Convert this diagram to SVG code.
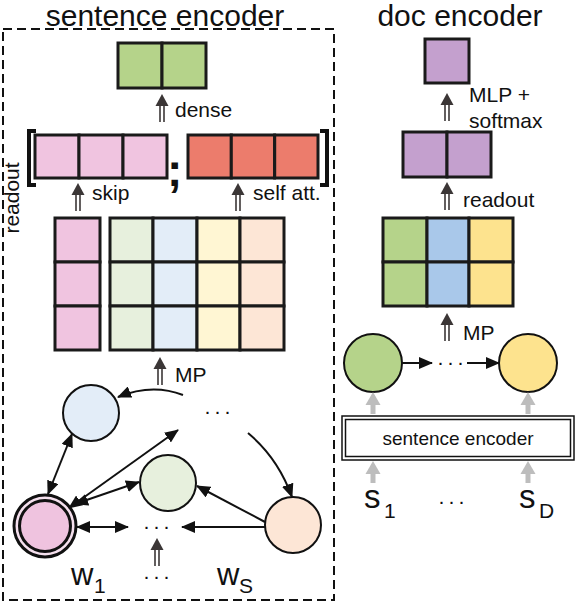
<svg xmlns="http://www.w3.org/2000/svg" xmlns:xlink="http://www.w3.org/1999/xlink" width="578" height="607" viewBox="0 0 578 607">
<style>
text{font-family:"Liberation Sans",Arial,sans-serif;fill:#111}
.t{font-size:30px}
.l{font-size:21px}
.dots{font-size:21px;letter-spacing:3px}
.cell{stroke:#1a1a1a;stroke-width:3}
.edge{stroke:#111;stroke-width:2;fill:none}
.node{stroke:#111;stroke-width:2}
</style>
<defs>
<marker id="ah" markerUnits="userSpaceOnUse" markerWidth="14" markerHeight="12" viewBox="0 0 14 12" refX="13" refY="6" orient="auto-start-reverse">
<path d="M0,0 L14,6 L0,12 z" fill="#111"/>
</marker>
<g id="up">
<polygon points="0,0 -6.5,12 6.5,12" fill="#3b3636"/>
<line x1="-2" y1="11" x2="-2" y2="28" stroke="#3b3636" stroke-width="1.6"/>
<line x1="2" y1="11" x2="2" y2="28" stroke="#3b3636" stroke-width="1.6"/>
</g>
<g id="gup">
<polygon points="0,0 -7.5,13 7.5,13" fill="#bdbdbd"/>
<rect x="-2.5" y="12" width="5" height="10" fill="#bdbdbd"/>
</g>
</defs>
<rect width="578" height="607" fill="#fff"/>

<g id="sentence-encoder-frame">
<text class="t" x="165" y="26" text-anchor="middle">sentence encoder</text>
<rect x="3" y="29" width="331" height="571" fill="none" stroke="#111" stroke-width="2" stroke-dasharray="9 5"/>
</g>

<g id="dense-output">
<rect class="cell" x="118" y="43" width="44" height="45" fill="#b5d38a"/>
<rect class="cell" x="162" y="43" width="44" height="45" fill="#b5d38a"/>
</g>

<g id="readout-concat">
<path d="M36,131 H29 V185 H36" fill="none" stroke="#111" stroke-width="4"/>
<path d="M320,131 H327 V185 H320" fill="none" stroke="#111" stroke-width="4"/>
<rect class="cell" x="35" y="135" width="44" height="43" fill="#f0c4e0"/>
<rect class="cell" x="79" y="135" width="44" height="43" fill="#f0c4e0"/>
<rect class="cell" x="123" y="135" width="44" height="43" fill="#f0c4e0"/>
<text x="167" y="186" style="font-size:46px;font-weight:bold">;</text>
<rect class="cell" x="188" y="135" width="43.3" height="43" fill="#ec7c6c"/>
<rect class="cell" x="231.3" y="135" width="43.3" height="43" fill="#ec7c6c"/>
<rect class="cell" x="274.7" y="135" width="43.3" height="43" fill="#ec7c6c"/>
<text class="l" transform="translate(19,198) rotate(-90)" text-anchor="middle">readout</text>
</g>

<g id="word-matrix">
<rect class="cell" x="55" y="218" width="45" height="44" fill="#f0c4e0"/>
<rect class="cell" x="55" y="262" width="45" height="44" fill="#f0c4e0"/>
<rect class="cell" x="55" y="306" width="45" height="44" fill="#f0c4e0"/>
<rect class="cell" x="110" y="218" width="43" height="44" fill="#e7f0dd"/>
<rect class="cell" x="110" y="262" width="43" height="44" fill="#e7f0dd"/>
<rect class="cell" x="110" y="306" width="43" height="44" fill="#e7f0dd"/>
<rect class="cell" x="153" y="218" width="44" height="44" fill="#e3edf8"/>
<rect class="cell" x="153" y="262" width="44" height="44" fill="#e3edf8"/>
<rect class="cell" x="153" y="306" width="44" height="44" fill="#e3edf8"/>
<rect class="cell" x="197" y="218" width="43" height="44" fill="#fff6d3"/>
<rect class="cell" x="197" y="262" width="43" height="44" fill="#fff6d3"/>
<rect class="cell" x="197" y="306" width="43" height="44" fill="#fff6d3"/>
<rect class="cell" x="240" y="218" width="44" height="44" fill="#fde6d6"/>
<rect class="cell" x="240" y="262" width="44" height="44" fill="#fde6d6"/>
<rect class="cell" x="240" y="306" width="44" height="44" fill="#fde6d6"/>
</g>

<g id="word-w1">
<circle cx="45" cy="526" r="31" fill="#f5e0ee" stroke="#111" stroke-width="3"/>
<circle cx="45" cy="526" r="25.5" fill="#efc3df" stroke="#111" stroke-width="3"/>
<text x="71" y="585" style="font-size:31px">w</text>
<text x="94" y="593" class="l">1</text>
</g>
<g id="word-blue">
<circle class="node" cx="91" cy="413" r="28" fill="#e3edf8"/>
</g>
<g id="word-green">
<circle class="node" cx="168" cy="483" r="28" fill="#e7f0dd"/>
</g>
<g id="word-wS">
<circle class="node" cx="293" cy="525" r="28" fill="#fde6d6"/>
<text x="217" y="585" style="font-size:31px">w</text>
<text x="239" y="593" class="l">S</text>
</g>
<g id="dots">
<text x="219" y="418" class="dots" text-anchor="middle">···</text>
<text x="158" y="533" class="dots" text-anchor="middle">···</text>
<text x="158" y="583" class="dots" text-anchor="middle">···</text>
</g>

<g id="doc-encoder">
<text class="t" x="460" y="26" text-anchor="middle">doc encoder</text>
<rect class="cell" x="425" y="39" width="44" height="44" fill="#c4a0ce"/>
<rect class="cell" x="403" y="132" width="44" height="45" fill="#c4a0ce"/>
<rect class="cell" x="447" y="132" width="44" height="45" fill="#c4a0ce"/>
<text class="l" x="469" y="102">MLP +</text>
<text class="l" x="469" y="128">softmax</text>
<text class="l" x="463" y="207">readout</text>
<rect class="cell" x="383" y="218" width="44" height="44" fill="#b5d38a"/>
<rect class="cell" x="383" y="262" width="44" height="44" fill="#b5d38a"/>
<rect class="cell" x="427" y="218" width="42" height="44" fill="#a9c8ea"/>
<rect class="cell" x="427" y="262" width="42" height="44" fill="#a9c8ea"/>
<rect class="cell" x="469" y="218" width="44" height="44" fill="#fde38e"/>
<rect class="cell" x="469" y="262" width="44" height="44" fill="#fde38e"/>
<text class="l" x="463" y="340">MP</text>
</g>
<g id="sent-s1">
<circle class="node" cx="373" cy="363" r="29" fill="#b5d38a"/>
<text x="364" y="508" style="font-size:33px">s</text>
<text x="384" y="518" class="l">1</text>
</g>
<g id="sent-sD">
<circle class="node" cx="528" cy="363" r="29" fill="#fde38e"/>
<text x="519" y="508" style="font-size:33px">s</text>
<text x="539" y="518" class="l">D</text>
</g>
<g id="doc-dots">
<text x="452" y="369" class="dots" text-anchor="middle">···</text>
<text x="453" y="508" class="dots" text-anchor="middle">···</text>
</g>
<g id="sentence-encoder-box">
<rect x="342" y="416" width="232" height="44" fill="#fff" stroke="#111" stroke-width="1.5"/>
<rect x="345.5" y="419.5" width="225" height="37" fill="none" stroke="#111" stroke-width="1.5"/>
<text x="458" y="445" text-anchor="middle" style="font-size:19px">sentence encoder</text>
</g>

<g id="connectors">
<use xlink:href="#up" x="162" y="94"/>
<text class="l" x="175" y="117">dense</text>
<use xlink:href="#up" x="78" y="183"/>
<text class="l" x="92" y="200">skip</text>
<use xlink:href="#up" x="238" y="183"/>
<text class="l" x="253" y="200">self att.</text>
<use xlink:href="#up" x="160" y="357"/>
<text class="l" x="175" y="382">MP</text>
<use xlink:href="#up" x="157" y="538"/>
<use xlink:href="#up" x="447" y="93"/>
<use xlink:href="#up" x="447" y="182"/>
<use xlink:href="#up" x="447" y="313"/>

<path class="edge" d="M183,395 Q152,383 118,397" marker-end="url(#ah)"/>
<path class="edge" d="M248,433 Q278,458 292,497" marker-end="url(#ah)"/>
<path class="edge" d="M72,434 L48,494" marker-start="url(#ah)" marker-end="url(#ah)"/>
<path class="edge" d="M69,508 L178,430" marker-start="url(#ah)" marker-end="url(#ah)"/>
<path class="edge" d="M75,504 L139,482" marker-start="url(#ah)" marker-end="url(#ah)"/>
<path class="edge" d="M77,527 L128,527" marker-start="url(#ah)" marker-end="url(#ah)"/>
<path class="edge" d="M265,522 L197,486" marker-end="url(#ah)"/>
<path class="edge" d="M265,527 L182,527" marker-end="url(#ah)"/>

<path class="edge" d="M402,363 L432,363" marker-end="url(#ah)"/>
<path class="edge" d="M467,363 L499,363" marker-end="url(#ah)"/>
<use xlink:href="#gup" x="373" y="392"/>
<use xlink:href="#gup" x="528" y="392"/>
<use xlink:href="#gup" x="373" y="461"/>
<use xlink:href="#gup" x="528" y="461"/>
</g>
</svg>
